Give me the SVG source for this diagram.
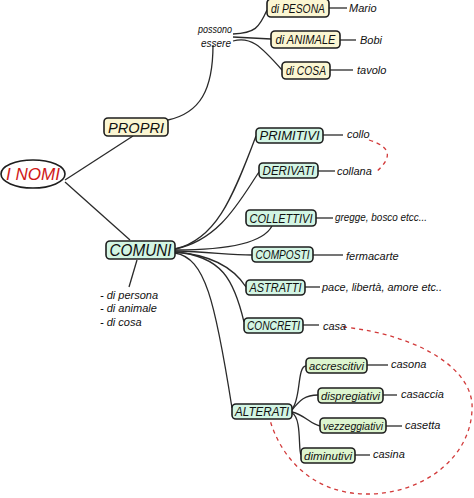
<svg xmlns="http://www.w3.org/2000/svg" width="474" height="498" viewBox="0 0 474 498">
<style>
.bg{fill:#ffffff}
.c{fill:none;stroke:#2a2a2a;stroke-width:1.3}
.d{fill:none;stroke:#d23a3a;stroke-width:1.3;stroke-dasharray:4 4}
.by{fill:#fbf6d2;stroke:#1e1e1e;stroke-width:1.6}
.bm{fill:#d3f5e4;stroke:#1e1e1e;stroke-width:1.6}
.bg2{fill:#ddf5cf;stroke:#1e1e1e;stroke-width:1.6}
.t{font-family:"Liberation Sans",Arial,sans-serif;font-style:italic;fill:#111;text-anchor:middle;dominant-baseline:central}
.l{font-family:"Liberation Sans",Arial,sans-serif;font-style:italic;fill:#111;font-size:11px;dominant-baseline:central}
.s{font-size:13px}
.u{font-size:11.5px}
</style>
<rect class="bg" x="0" y="0" width="474" height="498"/>
<g id="connectors">
<path class="c" d="M65,180 L133,136"/>
<path class="c" d="M65,182 L130,240"/>
<path class="c" d="M168,120 C200,113 213,90 213,45"/>
<path class="c" d="M233,34 C255,33 259,28 267,10"/>
<path class="c" d="M233,37 L271,39"/>
<path class="c" d="M233,41 C250,36 260,45 282,70"/>
<path class="c" d="M329,8 L347,8"/>
<path class="c" d="M340,40 L356,40"/>
<path class="c" d="M330,70 L353,70"/>
<path class="c" d="M137,260 L129,287"/>
<path class="c" d="M175,249 C215,240 232,200 256,136"/>
<path class="c" d="M175,249 C220,240 240,200 259,172"/>
<path class="c" d="M175,250 C220,250 262,245 272,226"/>
<path class="c" d="M175,251 C210,252 230,255 252,255"/>
<path class="c" d="M175,252 C215,255 235,270 246,287"/>
<path class="c" d="M175,252 C222,256 234,280 244,322"/>
<path class="c" d="M175,253 C205,258 215,300 232,408"/>
<path class="c" d="M323,135 L343,135"/>
<path class="c" d="M318,171 L335,171"/>
<path class="c" d="M316,218 L333,218"/>
<path class="c" d="M313,255 L343,255"/>
<path class="c" d="M305,287 L320,287"/>
<path class="c" d="M303,325 L319,325"/>
<path class="c" d="M292,409 C301,400 297,366 306,366"/>
<path class="c" d="M292,410 C300,400 305,395 318,395"/>
<path class="c" d="M292,412 C305,415 310,424 320,426"/>
<path class="c" d="M292,413 C302,418 298,450 301,455"/>
<path class="c" d="M367,365 L388,365"/>
<path class="c" d="M383,395 L397,395"/>
<path class="c" d="M386,426 L402,426"/>
<path class="c" d="M355,455 L370,455"/>
<path class="d" d="M369,140 C395,148 390,160 375,173"/>
<path class="d" d="M343,327 C420,335 475,370 472,410 C470,460 420,495 365,494 C310,493 280,455 270,420"/>
</g>
<g id="inomi">
<ellipse cx="33" cy="174" rx="32" ry="14" fill="#ffffff" stroke="#1e1e1e" stroke-width="1.6"/>
<text class="t" x="33" y="174" font-size="16" style="fill:#d01818" textLength="54" lengthAdjust="spacingAndGlyphs">I NOMI</text>
</g>
<g id="propri">
<rect class="by" x="104" y="118" width="64" height="18" rx="4"/>
<text class="t" x="136" y="127" font-size="15" textLength="56" lengthAdjust="spacingAndGlyphs">PROPRI</text>
</g>
<g id="possono">
<text class="l" x="215" y="29" text-anchor="middle" font-size="10.5" textLength="34" lengthAdjust="spacingAndGlyphs">possono</text>
<text class="l" x="216" y="43" text-anchor="middle" font-size="10.5" textLength="30" lengthAdjust="spacingAndGlyphs">essere</text>
</g>
<g id="pesona">
<rect class="by" x="267" y="-1" width="62" height="18" rx="4"/>
<text class="t s" x="298" y="8" textLength="54" lengthAdjust="spacingAndGlyphs">di PESONA</text>
<text class="l" x="349" y="8">Mario</text>
</g>
<g id="animale">
<rect class="by" x="271" y="31" width="69" height="17" rx="4"/>
<text class="t s" x="305.5" y="39.5" textLength="60" lengthAdjust="spacingAndGlyphs">di ANIMALE</text>
<text class="l" x="360" y="40">Bobi</text>
</g>
<g id="cosa">
<rect class="by" x="282" y="62" width="48" height="17" rx="4"/>
<text class="t s" x="306" y="70.5" textLength="40" lengthAdjust="spacingAndGlyphs">di COSA</text>
<text class="l" x="357" y="70">tavolo</text>
</g>
<g id="comuni">
<rect class="bm" x="106" y="241" width="69" height="18" rx="4"/>
<text class="t" x="140.5" y="250" font-size="16" textLength="62" lengthAdjust="spacingAndGlyphs">COMUNI</text>
<text class="l" x="100" y="295">- di persona</text>
<text class="l" x="100" y="308">- di animale</text>
<text class="l" x="100" y="322">- di cosa</text>
</g>
<g id="primitivi">
<rect class="bm" x="256" y="128" width="67" height="15" rx="4"/>
<text class="t s" x="289.5" y="135.5" textLength="60" lengthAdjust="spacingAndGlyphs">PRIMITIVI</text>
<text class="l" x="347" y="134">collo</text>
</g>
<g id="derivati">
<rect class="bm" x="259" y="163" width="59" height="15" rx="4"/>
<text class="t s" x="288.5" y="170.5" textLength="52" lengthAdjust="spacingAndGlyphs">DERIVATI</text>
<text class="l" x="337" y="171">collana</text>
</g>
<g id="collettivi">
<rect class="bm" x="246" y="210" width="70" height="16" rx="4"/>
<text class="t s" x="281" y="218" textLength="63" lengthAdjust="spacingAndGlyphs">COLLETTIVI</text>
<text class="l" x="335" y="217" textLength="92" lengthAdjust="spacingAndGlyphs">gregge, bosco etcc...</text>
</g>
<g id="composti">
<rect class="bm" x="252" y="247" width="61" height="15" rx="4"/>
<text class="t s" x="282.5" y="254.5" textLength="54" lengthAdjust="spacingAndGlyphs">COMPOSTI</text>
<text class="l" x="346" y="256">fermacarte</text>
</g>
<g id="astratti">
<rect class="bm" x="246" y="280" width="59" height="15" rx="4"/>
<text class="t s" x="275.5" y="287.5" textLength="52" lengthAdjust="spacingAndGlyphs">ASTRATTI</text>
<text class="l" x="322" y="287" textLength="120" lengthAdjust="spacingAndGlyphs">pace, libertà, amore etc..</text>
</g>
<g id="concreti">
<rect class="bm" x="244" y="318" width="59" height="15" rx="4"/>
<text class="t s" x="273.5" y="325.5" textLength="53" lengthAdjust="spacingAndGlyphs">CONCRETI</text>
<text class="l" x="323" y="326">casa</text>
</g>
<g id="alterati">
<rect class="bm" x="232" y="404" width="60" height="15" rx="4"/>
<text class="t s" x="262" y="411.5" textLength="54" lengthAdjust="spacingAndGlyphs">ALTERATI</text>
</g>
<g id="accrescitivi">
<rect class="bg2" x="306" y="358" width="61" height="15" rx="4"/>
<text class="t u" x="336.5" y="365.5" textLength="55" lengthAdjust="spacingAndGlyphs">accrescitivi</text>
<text class="l" x="391" y="364">casona</text>
</g>
<g id="dispregiativi">
<rect class="bg2" x="318" y="388" width="65" height="15" rx="4"/>
<text class="t u" x="350.5" y="395.5" textLength="59" lengthAdjust="spacingAndGlyphs">dispregiativi</text>
<text class="l" x="401" y="394">casaccia</text>
</g>
<g id="vezzeggiativi">
<rect class="bg2" x="320" y="418" width="66" height="15" rx="4"/>
<text class="t u" x="353" y="425.5" textLength="60" lengthAdjust="spacingAndGlyphs">vezzeggiativi</text>
<text class="l" x="405" y="425">casetta</text>
</g>
<g id="diminutivi">
<rect class="bg2" x="301" y="448" width="54" height="15" rx="4"/>
<text class="t u" x="328" y="455.5" textLength="48" lengthAdjust="spacingAndGlyphs">diminutivi</text>
<text class="l" x="373" y="454">casina</text>
</g>
</svg>
